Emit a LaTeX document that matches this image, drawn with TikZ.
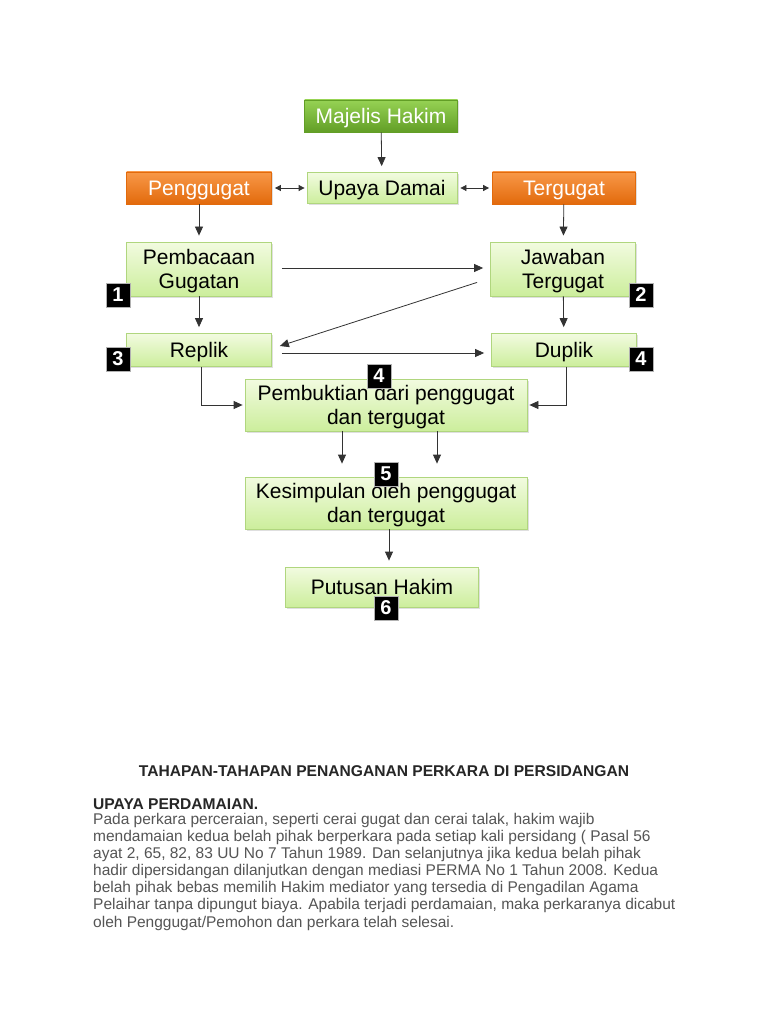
\documentclass[tikz,border=0pt]{standalone}
\usepackage{fontspec}
\setmainfont{Liberation Sans}
\usepackage{tikz}
\usetikzlibrary{calc, positioning, shapes, arrows.meta, shadows}
\definecolor{boxtop}{RGB}{242,251,224}
\definecolor{boxbot}{RGB}{204,238,156}
\definecolor{boxline}{RGB}{176,214,126}
\definecolor{orangetop}{RGB}{248,152,72}
\definecolor{orangebot}{RGB}{226,106,12}
\definecolor{greentop}{RGB}{150,210,84}
\definecolor{greenbot}{RGB}{98,158,38}
\definecolor{bodygray}{RGB}{85,85,85}
\newcommand\stepnum[3]{\node[numbox] (#1) at (#2) {#3};}

\begin{document}
\begin{tikzpicture}[x=1pt, y=-1pt,
	stepbox/.style={draw=boxline, line width=0.8pt, top color=boxtop, bottom color=boxbot, drop shadow={opacity=0.25, shadow xshift=1.5pt, shadow yshift=-1.5pt}, inner sep=0pt, text depth=0pt, align=center, font=\fontsize{21}{24}\selectfont},
	orangebox/.style={stepbox, draw=orangebot, top color=orangetop, bottom color=orangebot, text=white},
	greenbox/.style={stepbox, draw=greenbot, top color=greentop, bottom color=greenbot, text=white},
	numbox/.style={fill=black, draw=gray!60, line width=0.6pt, text=white, minimum width=24pt, minimum height=24pt, inner sep=0pt, font=\fontsize{20}{20}\selectfont\bfseries},
	arr/.style={-{Triangle[width=8pt,length=9pt]}, line width=0.8pt, draw=black!80},
	darr/.style={{Triangle[width=6pt,length=6pt]}-{Triangle[width=6pt,length=6pt]}, line width=0.8pt, draw=black!80}]
\useasboundingbox[fill=white] (0,0) rectangle (768,1024);

% boxes of the chart
\node[greenbox, minimum width=153pt, minimum height=32pt] (majelis) at (381,116) {Majelis Hakim};
\node[orangebox, minimum width=145pt, minimum height=32pt] (penggugat) at (199,188) {Penggugat};
\node[stepbox, minimum width=150pt, minimum height=31pt] (damai) at (382,188) {Upaya Damai};
\node[orangebox, minimum width=143pt, minimum height=32pt] (tergugat) at (564,188) {Tergugat};
\node[stepbox, minimum width=145pt, minimum height=54pt] (bacaan) at (199,269) {Pembacaan\\Gugatan};
\node[stepbox, minimum width=145pt, minimum height=54pt] (jawaban) at (563,269) {Jawaban\\Tergugat};
\node[stepbox, minimum width=145pt, minimum height=33pt] (replik) at (199,350) {Replik};
\node[stepbox, minimum width=145pt, minimum height=33pt] (duplik) at (564,350) {Duplik};
\node[stepbox, minimum width=282pt, minimum height=52pt] (bukti) at (386,405) {Pembuktian dari penggugat\\dan tergugat};
\node[stepbox, minimum width=282pt, minimum height=52pt] (simpul) at (386,503) {Kesimpulan oleh penggugat\\dan tergugat};
\node[stepbox, minimum width=193pt, minimum height=40pt] (putusan) at (382,587) {Putusan Hakim};

% arrows
\draw[arr, shorten >=6pt] (majelis) -- (damai);
\draw[darr, shorten <=3pt, shorten >=2pt] (penggugat) -- (damai);
\draw[darr, shorten <=3pt, shorten >=3pt] (damai) -- (tergugat);
\draw[arr, shorten >=6pt] (penggugat) -- (bacaan);
\draw[arr, shorten >=6pt] (tergugat) -- (jawaban);
\draw[arr, shorten <=10pt, shorten >=7pt] ([yshift=1pt]bacaan.east) -- ([yshift=1pt]jawaban.west);
\draw[arr] ([xshift=-13pt,yshift=14pt]jawaban.south west) -- ([xshift=8pt,yshift=4pt]replik.east);
\draw[arr, shorten >=6pt] (bacaan) -- (replik);
\draw[arr, shorten >=6pt] (jawaban) -- (duplik);
\draw[arr, shorten <=10pt, shorten >=7pt] ([yshift=-3pt]replik.east) -- ([yshift=-3pt]duplik.west);
\draw[arr, shorten >=2pt] ([xshift=2pt]replik.south) |- (bukti.west);
\draw[arr, shorten >=2pt] ([xshift=2pt]duplik.south) |- (bukti.east);
\draw[arr, shorten >=13pt] ([xshift=-44pt]bukti.south) -- ([xshift=-44pt]simpul.north);
\draw[arr, shorten >=13pt] ([xshift=51pt]bukti.south) -- ([xshift=51pt]simpul.north);
\draw[arr, shorten >=6pt] ([xshift=3pt]simpul.south) -- ([xshift=7pt]putusan.north);

% step numbers
\stepnum{n1}{118,295}{1}
\stepnum{n2}{641,295}{2}
\stepnum{n3}{118,359}{3}
\stepnum{n4}{641,359}{4}
\stepnum{n4b}{379,376}{4}
\stepnum{n5}{386,474}{5}
\stepnum{n6}{386,608}{6}

% text under the chart
\node[font=\fontsize{15.6}{17}\selectfont\bfseries, text=black!85] (title) at (384,771) {TAHAPAN-TAHAPAN PENANGANAN PERKARA DI PERSIDANGAN};
\node[anchor=west, inner sep=0pt, font=\fontsize{15.6}{17}\selectfont\bfseries, text=black!85] (judul) at (93,804) {UPAYA PERDAMAIAN.};
\node[anchor=north west, inner sep=0pt, align=left, font=\fontsize{15.5}{17.1}\selectfont, text=bodygray] (isi) at (93,813) {Pada perkara perceraian, seperti cerai gugat dan cerai talak, hakim wajib\\
mendamaian kedua belah pihak berperkara pada setiap kali persidang ( Pasal 56\\
ayat 2, 65, 82, 83 UU No 7 Tahun 1989. Dan selanjutnya jika kedua belah pihak\\
hadir dipersidangan dilanjutkan dengan mediasi PERMA No 1 Tahun 2008. Kedua\\
belah pihak bebas memilih Hakim mediator yang tersedia di Pengadilan Agama\\
Pelaihar tanpa dipungut biaya. Apabila terjadi perdamaian, maka perkaranya dicabut\\
oleh Penggugat/Pemohon dan perkara telah selesai.};
\end{tikzpicture}
\end{document}
